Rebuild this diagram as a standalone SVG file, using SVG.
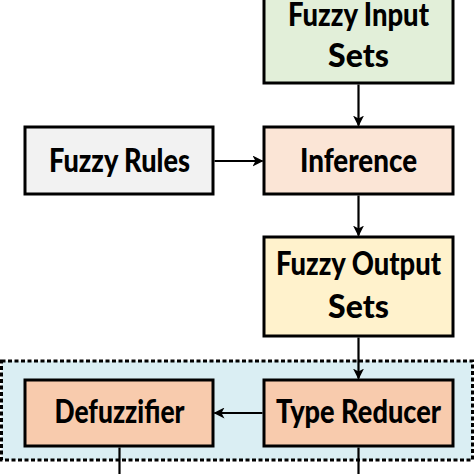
<svg xmlns="http://www.w3.org/2000/svg" width="474" height="474" viewBox="0 0 474 474">
<defs>
<marker id="ah" markerWidth="11" markerHeight="11" refX="10" refY="5.5" orient="auto" markerUnits="userSpaceOnUse">
<path d="M0,0 L11,5.5 L0,11 L3,5.5 Z" fill="#000"/>
</marker>
</defs>
<style>
.box{stroke:#000;stroke-width:3}
.t{font-family:Lato,"Liberation Sans",sans-serif;font-weight:900;font-size:32px;fill:#000;text-anchor:middle}
.c{stroke:#000;stroke-width:2.2;fill:none}
</style>
<rect width="474" height="474" fill="#fff"/>
<g id="reducer-group">
<rect x="1.5" y="361" width="471" height="99" fill="#daeef3" stroke="#000" stroke-width="3" stroke-dasharray="4,2.5"/>
</g>
<g id="fuzzy-input-sets">
<rect class="box" x="264" y="-5" width="189" height="88" fill="#e2efd9"/>
<text class="t" x="358.5" y="26" textLength="141" lengthAdjust="spacingAndGlyphs">Fuzzy Input</text>
<text class="t" x="358.5" y="67">Sets</text>
</g>
<g id="fuzzy-rules">
<rect class="box" x="25" y="127" width="188" height="67" fill="#f2f2f2"/>
<text class="t" x="119.5" y="172" textLength="141" lengthAdjust="spacingAndGlyphs">Fuzzy Rules</text>
</g>
<g id="inference">
<rect class="box" x="264" y="127" width="189" height="67" fill="#fbe5d6"/>
<text class="t" x="358.5" y="172" textLength="117" lengthAdjust="spacingAndGlyphs">Inference</text>
</g>
<g id="fuzzy-output-sets">
<rect class="box" x="264" y="237" width="189" height="99" fill="#fff2cc"/>
<text class="t" x="358.5" y="275" textLength="165" lengthAdjust="spacingAndGlyphs">Fuzzy Output</text>
<text class="t" x="358.5" y="318">Sets</text>
</g>
<g id="defuzzifier">
<rect class="box" x="25" y="380" width="188" height="66" fill="#f8cbad"/>
<text class="t" x="119.5" y="423" textLength="130" lengthAdjust="spacingAndGlyphs">Defuzzifier</text>
</g>
<g id="type-reducer">
<rect class="box" x="264" y="380" width="189" height="66" fill="#f8cbad"/>
<text class="t" x="358.5" y="423" textLength="165" lengthAdjust="spacingAndGlyphs">Type Reducer</text>
</g>
<g id="connectors">
<line class="c" x1="358.5" y1="84.5" x2="358.5" y2="125.5" marker-end="url(#ah)"/>
<line class="c" x1="214.5" y1="161" x2="262.5" y2="161" marker-end="url(#ah)"/>
<line class="c" x1="358.5" y1="195.5" x2="358.5" y2="235.5" marker-end="url(#ah)"/>
<line class="c" x1="358.5" y1="337.5" x2="358.5" y2="378.5" marker-end="url(#ah)"/>
<line class="c" x1="262.5" y1="413" x2="214.5" y2="413" marker-end="url(#ah)"/>
<line class="c" x1="119.5" y1="447.5" x2="119.5" y2="474"/>
<line class="c" x1="358.5" y1="447.5" x2="358.5" y2="474"/>
</g>
</svg>
